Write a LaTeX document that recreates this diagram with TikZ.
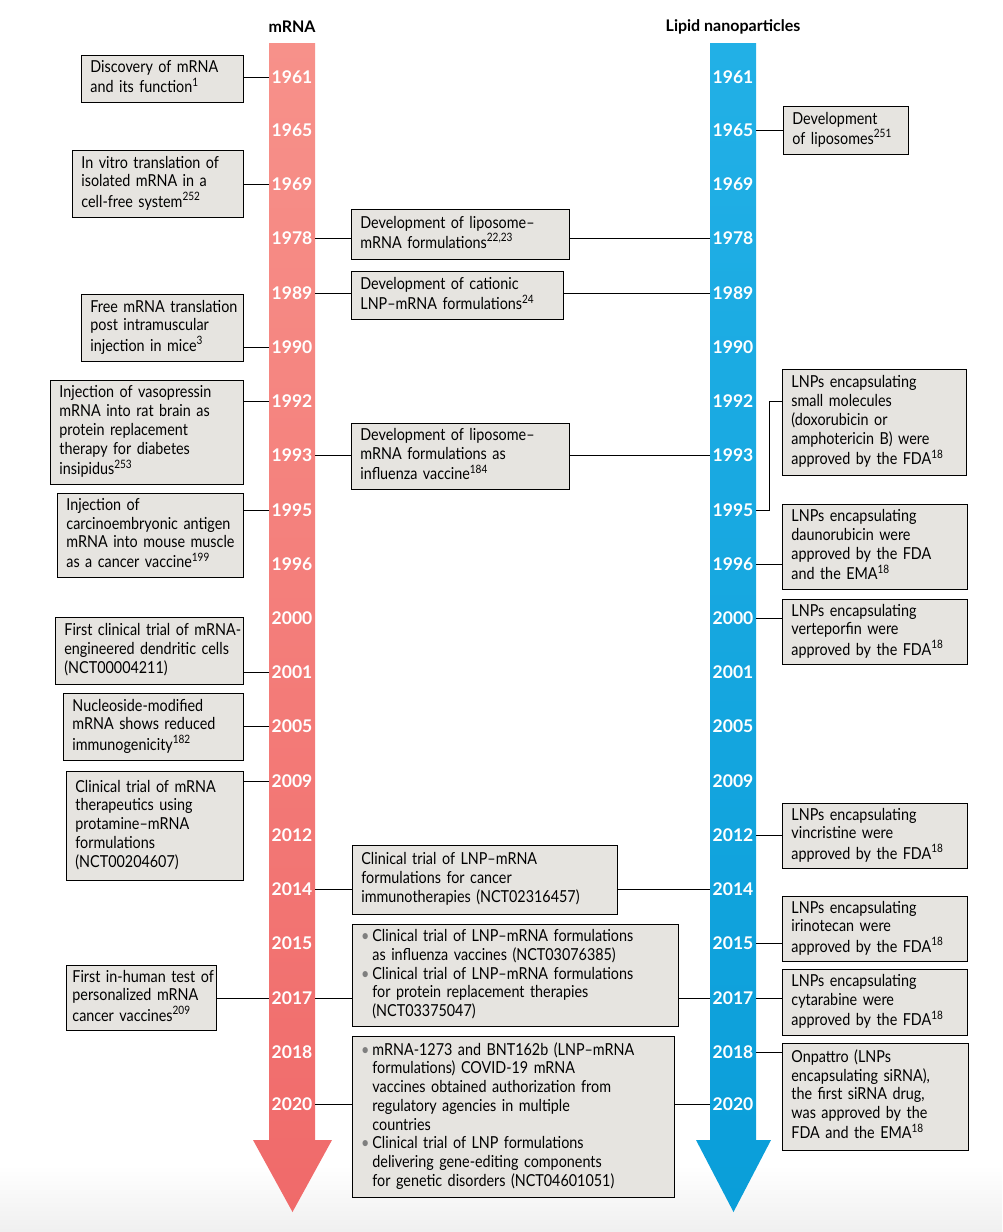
\documentclass[tikz,border=0pt]{standalone}
\usepackage{fontspec}
\setmainfont{Lato}[FakeStretch=0.87]
\newfontfamily\yrfont{Lato}
\usetikzlibrary{calc}
\definecolor{redtop}{HTML}{F7918A}
\definecolor{redbot}{HTML}{F06A6A}
\definecolor{bluetop}{HTML}{22B0E6}
\definecolor{bluebot}{HTML}{0A9ED9}
\definecolor{boxgray}{HTML}{E6E4E0}
\definecolor{bulgray}{HTML}{7F7F7F}
\newcommand{\bx}[1]{\noindent\begin{tabular}{@{}l@{}}#1\end{tabular}}
\newcommand{\bul}{\llap{\textcolor{bulgray}{\textbullet}\hspace{3pt}}}
\newcommand{\sps}[1]{\textsuperscript{#1}}
\begin{document}
\begin{tikzpicture}[x=1pt,y=-1pt,
  evt/.style={draw=black, line width=0.8pt, fill=boxgray, anchor=north west,
    inner xsep=9pt, inner ysep=0pt, align=left,
    font=\fontsize{16.5}{18.7}\selectfont},
  evtb/.style={evt, inner xsep=20pt},
  yr/.style={font=\yrfont\bfseries\fontsize{17.5}{20}\selectfont, text=white,
    minimum width=46pt, inner sep=0pt},
  hdr/.style={font=\yrfont\bfseries\fontsize{16}{18}\selectfont, inner sep=0pt},
  con/.style={line width=0.8pt}]
\useasboundingbox (0,0) rectangle (1002,1232);
\fill[white] (0,0) rectangle (1002,1232);
\shade[top color=white, bottom color=black!6] (0,1165) rectangle (1002,1232);

% arrows
\shade[top color=redtop, bottom color=redbot]
  (269,43) -- (315,43) -- (315,1140) -- (332,1140) -- (292.5,1212) -- (253,1140) -- (269,1140) -- cycle;
\shade[top color=bluetop, bottom color=bluebot]
  (710,43) -- (756,43) -- (756,1140) -- (771,1140) -- (733.5,1212) -- (696,1140) -- (710,1140) -- cycle;

\node[hdr] (hm) at (292,27) {mRNA};
\node[hdr] (hl) at (733,27) {Lipid nanoparticles};

\foreach \yr/\yy in {1961/77,1965/130,1969/184,1978/238,1989/293,1990/347,1992/401,1993/455,1995/510,1996/564,2000/618,2001/672,2005/726,2009/781,2012/835,2014/889,2015/943,2017/998,2018/1052,2020/1104}{
  \node[yr] (m\yr) at (292,\yy) {\yr};
  \node[yr] (p\yr) at (733,\yy) {\yr};
}

% left boxes
\node[evt, minimum width=162pt, minimum height=47pt, text width=144pt] (L1) at (81,55)
  {\bx{Discovery of mRNA\\and its function\sps{1}}};
\node[evt, minimum width=171pt, minimum height=67pt, text width=153pt] (L2) at (72,150)
  {\bx{In vitro translation of\\isolated mRNA in a\\cell-free system\sps{252}}};
\node[evt, minimum width=162pt, minimum height=67pt, text width=144pt] (L3) at (81,294)
  {\bx{Free mRNA translation\\post intramuscular\\injection in mice\sps{3}}};
\node[evt, minimum width=193pt, minimum height=104pt, text width=175pt] (L4) at (50,380)
  {\bx{Injection of vasopressin\\mRNA into rat brain as\\protein replacement\\therapy for diabetes\\insipidus\sps{253}}};
\node[evt, minimum width=186pt, minimum height=84pt, text width=168pt] (L5) at (57,493)
  {\bx{Injection of\\carcinoembryonic antigen\\mRNA into mouse muscle\\as a cancer vaccine\sps{199}}};
\node[evt, minimum width=188pt, minimum height=67pt, text width=170pt] (L6) at (55,617)
  {\bx{First clinical trial of mRNA-\\engineered dendritic cells\\(NCT00004211)}};
\node[evt, minimum width=180pt, minimum height=67pt, text width=162pt] (L7) at (63,693)
  {\bx{Nucleoside-modified\\mRNA shows reduced\\immunogenicity\sps{182}}};
\node[evt, minimum width=177pt, minimum height=109pt, text width=159pt] (L8) at (66,771)
  {\bx{Clinical trial of mRNA\\therapeutics using\\protamine–mRNA\\formulations\\(NCT00204607)}};
\node[evt, inner xsep=6pt, minimum width=150pt, minimum height=65pt, text width=138pt] (L9) at (66,965)
  {\bx{First in-human test of\\personalized mRNA\\cancer vaccines\sps{209}}};

% middle boxes
\node[evt, minimum width=218pt, minimum height=50pt, text width=200pt] (M1) at (351,209)
  {\bx{Development of liposome–\\mRNA formulations\sps{22,23}}};
\node[evt, minimum width=212pt, minimum height=48pt, text width=194pt] (M2) at (351,271)
  {\bx{Development of cationic\\LNP–mRNA formulations\sps{24}}};
\node[evt, minimum width=218pt, minimum height=66pt, text width=200pt] (M3) at (351,423)
  {\bx{Development of liposome–\\mRNA formulations as\\influenza vaccine\sps{184}}};
\node[evt, minimum width=265pt, minimum height=69pt, text width=247pt] (M4) at (352,845)
  {\bx{Clinical trial of LNP–mRNA\\formulations for cancer\\immunotherapies (NCT02316457)}};
\node[evtb, minimum width=326pt, minimum height=102pt, text width=286pt] (M5) at (352,924)
  {\bx{\bul Clinical trial of LNP–mRNA formulations\\as influenza vaccines (NCT03076385)\\\bul Clinical trial of LNP–mRNA formulations\\for protein replacement therapies\\(NCT03375047)}};
\node[evtb, minimum width=322pt, minimum height=161pt, text width=282pt] (M6) at (352,1036)
  {\bx{\bul mRNA-1273 and BNT162b (LNP–mRNA\\formulations) COVID-19 mRNA\\vaccines obtained authorization from\\regulatory agencies in multiple\\countries\\\bul Clinical trial of LNP formulations\\delivering gene-editing components\\for genetic disorders (NCT04601051)}};

% right boxes
\node[evt, minimum width=125pt, minimum height=48pt, text width=107pt] (R1) at (783,106)
  {\bx{Development\\of liposomes\sps{251}}};
\node[evt, minimum width=184pt, minimum height=106pt, text width=166pt] (R2) at (782,369)
  {\bx{LNPs encapsulating\\small molecules\\(doxorubicin or\\amphotericin B) were\\approved by the FDA\sps{18}}};
\node[evt, minimum width=185pt, minimum height=85pt, text width=167pt] (R3) at (782,504)
  {\bx{LNPs encapsulating\\daunorubicin were\\approved by the FDA\\and the EMA\sps{18}}};
\node[evt, minimum width=185pt, minimum height=65pt, text width=167pt] (R4) at (782,599)
  {\bx{LNPs encapsulating\\verteporfin were\\approved by the FDA\sps{18}}};
\node[evt, minimum width=185pt, minimum height=65pt, text width=167pt] (R5) at (782,803)
  {\bx{LNPs encapsulating\\vincristine were\\approved by the FDA\sps{18}}};
\node[evt, minimum width=185pt, minimum height=65pt, text width=167pt] (R6) at (782,896)
  {\bx{LNPs encapsulating\\irinotecan were\\approved by the FDA\sps{18}}};
\node[evt, minimum width=185pt, minimum height=66pt, text width=167pt] (R7) at (782,969)
  {\bx{LNPs encapsulating\\cytarabine were\\approved by the FDA\sps{18}}};
\node[evt, minimum width=186pt, minimum height=107pt, text width=168pt] (R8) at (782,1043)
  {\bx{Onpattro (LNPs\\encapsulating siRNA),\\the first siRNA drug,\\was approved by the\\FDA and the EMA\sps{18}}};

% connectors left
\draw[con] (L1.east |- m1961) -- (m1961.west);
\draw[con] (L2.east |- m1969) -- (m1969.west);
\draw[con] (L3.east |- m1990) -- (m1990.west);
\draw[con] (L4.east |- m1992) -- (m1992.west);
\draw[con] (L5.east |- m1995) -- (m1995.west);
\draw[con] (L6.east |- m2001) -- (m2001.west);
\draw[con] (L7.east |- m2005) -- (m2005.west);
\draw[con] (L8.east |- m2009) -- (m2009.west);
\draw[con] (L9.east |- m2017) -- (m2017.west);
% connectors middle
\foreach \b/\yr in {M1/1978,M2/1989,M3/1993,M4/2014,M5/2017,M6/2020}{
  \draw[con] (m\yr.east) -- (m\yr.east -| \b.west);
  \draw[con] (\b.east |- p\yr) -- (p\yr.west);
}
% connectors right
\coordinate (elb) at (769,0);
\draw[con] (p1965.east) -- (p1965.east -| R1.west);
\draw[con] (p1995.east) -| (elb |- p1992) -- (R2.west |- p1992);
\draw[con] (p1996.east) -- (p1996.east -| R3.west);
\draw[con] (p2000.east) -- (p2000.east -| R4.west);
\draw[con] (p2012.east) -- (p2012.east -| R5.west);
\draw[con] (p2015.east) -- (p2015.east -| R6.west);
\draw[con] (p2017.east) -- (p2017.east -| R7.west);
\draw[con] (p2018.east) -- (p2018.east -| R8.west);
\end{tikzpicture}
\end{document}
